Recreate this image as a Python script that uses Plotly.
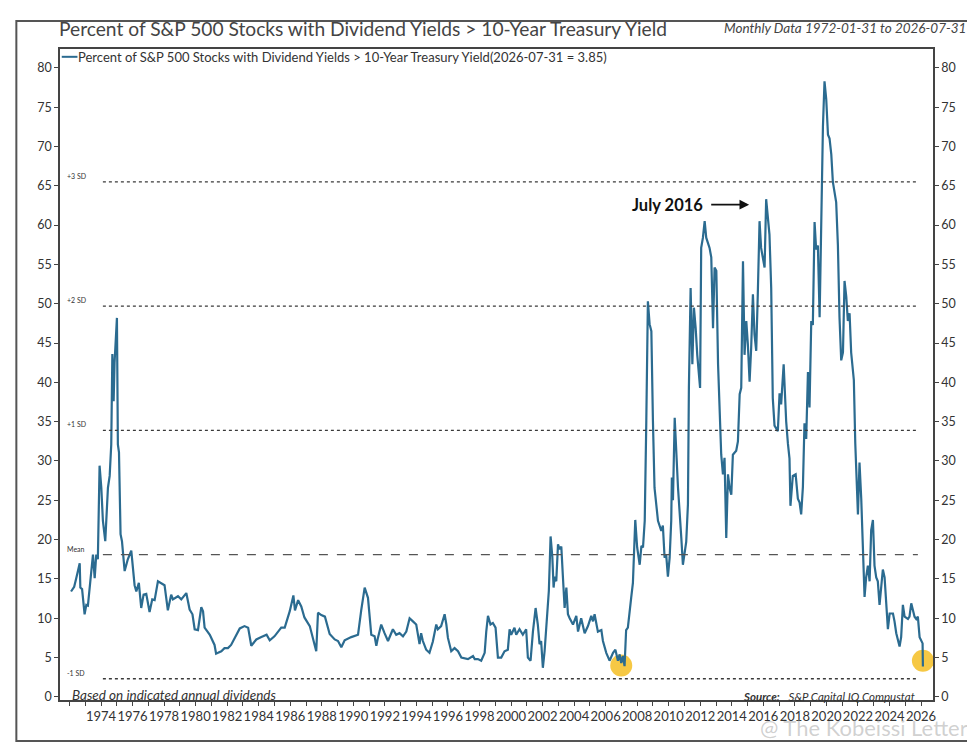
import plotly.graph_objects as go

# decimal years and percent values
years = [
    1972.10, 1972.30, 1972.43, 1972.65, 1972.69, 1972.80, 1972.96, 1973.07, 1973.17, 1973.38,
    1973.49, 1973.60, 1973.70, 1973.80, 1973.91, 1974.02, 1974.12, 1974.27, 1974.44, 1974.55,
    1974.65, 1974.72, 1974.80, 1974.86, 1975.01, 1975.07, 1975.14, 1975.24, 1975.33, 1975.50,
    1975.70, 1975.92, 1976.03, 1976.13, 1976.24, 1976.40, 1976.55, 1976.70, 1976.87, 1977.08,
    1977.25, 1977.40, 1977.61, 1977.80, 1978.03, 1978.24, 1978.45, 1978.56, 1978.88, 1979.09,
    1979.41, 1979.62, 1979.80, 1979.94, 1980.15, 1980.36, 1980.47, 1980.57, 1980.90, 1981.20,
    1981.30, 1981.42, 1981.63, 1981.83, 1982.05, 1982.25, 1982.48, 1982.80, 1983.10, 1983.33,
    1983.53, 1983.85, 1984.17, 1984.50, 1984.70, 1985.00, 1985.43, 1985.65, 1985.97, 1986.20,
    1986.30, 1986.50, 1986.70, 1986.90, 1987.24, 1987.45, 1987.65, 1987.76, 1987.97, 1988.20,
    1988.50, 1988.82, 1989.03, 1989.24, 1989.45, 1989.87, 1990.30, 1990.50, 1990.72, 1990.93,
    1991.14, 1991.35, 1991.46, 1991.56, 1991.77, 1991.98, 1992.20, 1992.51, 1992.72, 1992.93,
    1993.15, 1993.36, 1993.57, 1993.78, 1993.99, 1994.20, 1994.30, 1994.41, 1994.62, 1994.83,
    1995.04, 1995.26, 1995.36, 1995.57, 1995.79, 1995.90, 1996.00, 1996.21, 1996.42, 1996.64,
    1996.85, 1997.27, 1997.59, 1997.70, 1997.90, 1998.11, 1998.33, 1998.43, 1998.54, 1998.70,
    1998.85, 1999.02, 1999.17, 1999.38, 1999.59, 1999.80, 1999.91, 2000.01, 2000.22, 2000.33,
    2000.54, 2000.75, 2000.96, 2001.07, 2001.24, 2001.39, 2001.56, 2001.70, 2001.81, 2001.91,
    2002.02, 2002.13, 2002.28, 2002.40, 2002.51, 2002.62, 2002.70, 2002.77, 2002.87, 2002.98,
    2003.08, 2003.19, 2003.29, 2003.40, 2003.51, 2003.61, 2003.72, 2003.93, 2004.14, 2004.25,
    2004.45, 2004.56, 2004.67, 2004.88, 2005.09, 2005.20, 2005.30, 2005.51, 2005.73, 2005.83,
    2006.04, 2006.25, 2006.47, 2006.62, 2006.78, 2006.89, 2006.99, 2007.10, 2007.20, 2007.30,
    2007.41, 2007.62, 2007.73, 2007.88, 2008.00, 2008.16, 2008.27, 2008.37, 2008.48, 2008.58,
    2008.68, 2008.79, 2008.90, 2009.00, 2009.10, 2009.32, 2009.53, 2009.63, 2009.74, 2009.84,
    2009.95, 2010.06, 2010.16, 2010.20, 2010.27, 2010.38, 2010.48, 2010.59, 2010.80, 2010.90,
    2011.11, 2011.22, 2011.28, 2011.39, 2011.50, 2011.60, 2011.71, 2011.81, 2011.99, 2012.06,
    2012.17, 2012.28, 2012.38, 2012.59, 2012.70, 2012.81, 2012.91, 2013.02, 2013.13, 2013.33,
    2013.44, 2013.54, 2013.65, 2013.76, 2013.86, 2013.97, 2014.07, 2014.28, 2014.39, 2014.50,
    2014.60, 2014.71, 2014.81, 2014.92, 2015.02, 2015.13, 2015.23, 2015.34, 2015.44, 2015.55,
    2015.65, 2015.76, 2015.86, 2016.08, 2016.18, 2016.29, 2016.39, 2016.50, 2016.60, 2016.71,
    2016.92, 2017.03, 2017.13, 2017.29, 2017.45, 2017.56, 2017.66, 2017.72, 2017.87, 2018.05,
    2018.19, 2018.30, 2018.40, 2018.51, 2018.61, 2018.72, 2018.83, 2018.93, 2019.04, 2019.14,
    2019.25, 2019.35, 2019.46, 2019.57, 2019.67, 2019.78, 2019.88, 2019.99, 2020.10, 2020.20,
    2020.31, 2020.41, 2020.62, 2020.73, 2020.83, 2020.94, 2021.05, 2021.15, 2021.26, 2021.36,
    2021.47, 2021.57, 2021.74, 2021.83, 2022.00, 2022.10, 2022.21, 2022.31, 2022.42, 2022.52,
    2022.63, 2022.74, 2022.84, 2022.95, 2023.05, 2023.16, 2023.26, 2023.37, 2023.48, 2023.58,
    2023.69, 2023.79, 2023.90, 2024.01, 2024.22, 2024.32, 2024.43, 2024.64, 2024.74, 2024.85,
    2024.96, 2025.17, 2025.27, 2025.38, 2025.48, 2025.59, 2025.70, 2025.80, 2025.91, 2026.01,
    2026.10, 2026.12,
]
values = [
    13.4, 14.0, 15.1, 17.0, 13.9, 13.7, 10.5, 11.7, 11.6, 16.2,
    18.1, 15.1, 18.1, 17.5, 29.4, 26.6, 22.4, 19.8, 26.6, 28.1,
    32.1, 43.6, 37.6, 42.5, 48.2, 32.1, 31.1, 20.7, 19.8, 16.0,
    17.5, 18.6, 16.0, 14.2, 13.4, 14.5, 11.3, 13.0, 13.1, 10.8,
    12.4, 12.3, 14.7, 14.5, 14.2, 11.0, 13.0, 12.4, 12.8, 12.4,
    13.2, 11.1, 10.5, 8.6, 8.5, 11.4, 10.9, 8.8, 7.9, 6.6,
    5.5, 5.6, 5.8, 6.2, 6.2, 6.6, 7.5, 8.7, 9.0, 8.8,
    6.5, 7.3, 7.6, 7.9, 7.2, 7.7, 8.8, 8.8, 10.9, 12.9,
    11.0, 12.3, 11.5, 10.1, 9.0, 7.3, 5.8, 10.7, 10.4, 10.2,
    8.0, 7.3, 7.1, 6.3, 7.2, 7.6, 7.9, 11.0, 13.9, 12.6,
    7.9, 7.7, 6.5, 7.5, 9.2, 8.1, 7.1, 8.6, 7.9, 8.1,
    7.7, 8.3, 10.0, 9.6, 9.2, 6.7, 8.1, 7.1, 6.0, 5.6,
    7.0, 9.2, 8.6, 9.0, 10.5, 9.2, 7.5, 5.8, 6.2, 5.8,
    5.0, 4.8, 5.2, 4.8, 4.8, 4.6, 5.6, 8.3, 10.3, 9.2,
    9.4, 8.8, 5.0, 5.0, 5.8, 6.0, 8.6, 7.9, 8.8, 7.9,
    8.6, 7.9, 8.6, 5.0, 4.6, 8.3, 11.3, 9.2, 6.7, 7.1,
    3.7, 5.8, 10.0, 13.5, 20.4, 17.8, 13.9, 15.3, 14.7, 19.4,
    18.8, 19.1, 15.3, 11.3, 13.9, 10.5, 10.0, 9.2, 10.3, 8.3,
    10.0, 9.2, 8.1, 9.0, 10.3, 9.6, 10.5, 8.3, 8.5, 7.1,
    5.6, 4.6, 5.6, 6.0, 4.6, 5.4, 4.3, 5.2, 3.9, 8.5,
    8.8, 12.6, 14.5, 22.5, 19.0, 16.8, 19.2, 19.0, 22.4, 35.1,
    50.3, 47.4, 46.5, 35.1, 26.6, 22.4, 21.1, 21.8, 17.7, 18.1,
    15.3, 17.7, 22.4, 27.9, 25.0, 35.5, 30.8, 26.6, 20.2, 16.8,
    19.7, 24.5, 39.3, 52.0, 42.3, 49.5, 46.9, 43.5, 39.3, 57.1,
    58.4, 60.5, 58.4, 57.1, 55.9, 46.9, 54.6, 54.2, 42.3, 30.8,
    28.3, 30.4, 20.2, 28.3, 26.6, 25.7, 30.8, 31.3, 32.5, 38.5,
    39.3, 55.4, 43.5, 47.8, 44.8, 40.1, 44.4, 51.2, 46.1, 44.0,
    51.2, 60.5, 57.1, 54.6, 63.3, 60.5, 58.8, 52.0, 38.0, 34.5,
    33.8, 38.6, 37.2, 42.3, 35.0, 32.2, 30.3, 24.3, 28.1, 28.3,
    25.2, 24.7, 23.2, 26.7, 34.8, 32.8, 41.3, 36.8, 47.8, 47.3,
    60.4, 56.9, 57.4, 48.3, 59.9, 72.5, 78.3, 76.0, 71.5, 71.0,
    69.0, 65.5, 62.9, 57.4, 48.3, 42.8, 43.8, 52.9, 50.9, 47.8,
    48.8, 43.8, 40.3, 32.3, 23.2, 29.8, 25.2, 18.7, 12.7, 15.2,
    16.7, 14.7, 21.2, 22.5, 16.7, 15.2, 14.7, 11.7, 13.7, 16.2,
    15.2, 12.2, 8.6, 10.6, 10.6, 9.6, 8.1, 6.4, 7.6, 11.7,
    10.2, 9.9, 10.2, 11.9, 11.2, 10.2, 9.9, 10.2, 7.6, 7.1,
    6.8, 3.85,
]

mean_val = 18.1
sd_levels = [65.5, 49.7, 33.9, 2.3]
sd_labels = ["+3 SD", "+2 SD", "+1 SD", "-1 SD"]

tick_years = list(range(1972, 2027))
tick_text = [str(y) if y % 2 == 0 and y >= 1974 else "" for y in tick_years]
y_ticks = list(range(0, 81, 5))

highlight_years = [2006.99, 2026.12]
highlight_values = [4.0, 4.6]

line_color = "#2b6b90"
font_main = "Lato, 'Open Sans', sans-serif"

fig = go.Figure()

fig.add_trace(go.Scatter(
    x=highlight_years, y=highlight_values, mode="markers",
    marker=dict(size=22, color="rgba(245,190,35,0.85)", line=dict(width=0)),
    hoverinfo="skip", showlegend=False,
))
fig.add_trace(go.Scatter(
    x=years, y=values, mode="lines",
    line=dict(color=line_color, width=2.2),
    name="Percent of S&P 500 Stocks with Dividend Yields > 10-Year Treasury Yield",
    showlegend=False,
))
# same series on the right axis (invisible) so the mirrored labels appear
fig.add_trace(go.Scatter(
    x=years, y=values, mode="lines", yaxis="y2",
    line=dict(color="rgba(0,0,0,0)", width=0),
    hoverinfo="skip", showlegend=False,
))

x0, x1 = 1974.12, 2025.80
for lvl, lab in zip(sd_levels, sd_labels):
    fig.add_shape(type="line", x0=x0, x1=x1, y0=lvl, y1=lvl, xref="x", yref="y",
                  line=dict(color="#3a3a3a", width=1.3, dash="dot"))
    fig.add_annotation(x=0.006, y=lvl, xref="paper", yref="y", text=lab,
                       showarrow=False, xanchor="left", yanchor="bottom",
                       font=dict(size=7, color="#333", family=font_main))
fig.add_shape(type="line", x0=x0, x1=x1, y0=mean_val, y1=mean_val, xref="x", yref="y",
              line=dict(color="#555", width=1.3, dash="dash"))
fig.add_annotation(x=0.006, y=mean_val, xref="paper", yref="y", text="Mean",
                   showarrow=False, xanchor="left", yanchor="bottom",
                   font=dict(size=7, color="#333", family=font_main))

# outer frame
fig.add_shape(type="rect", xref="paper", yref="paper",
              x0=-0.050, x1=1.044, y0=-0.063, y1=1.043,
              line=dict(color="#555", width=2))

# legend drawn by hand
fig.add_shape(type="line", xref="paper", yref="paper", x0=0.002, x1=0.020, y0=0.988, y1=0.988,
              line=dict(color=line_color, width=2))
fig.add_annotation(x=0.018, y=0.988, xref="paper", yref="paper",
                   text="Percent of S&P 500 Stocks with Dividend Yields > 10-Year Treasury Yield(2026-07-31 = 3.85)",
                   showarrow=False, xanchor="left", yanchor="middle",
                   font=dict(size=13.0, color="#333", family=font_main))

fig.add_annotation(x=-0.003, y=1.031, xref="paper", yref="paper",
                   text="Percent of S&P 500 Stocks with Dividend Yields > 10-Year Treasury Yield",
                   showarrow=False, xanchor="left", yanchor="middle",
                   font=dict(size=19.2, color="#444", family=font_main))
fig.add_annotation(x=1.040, y=1.033, xref="paper", yref="paper",
                   text="<i>Monthly Data 1972-01-31 to 2026-07-31</i>",
                   showarrow=False, xanchor="right", yanchor="middle",
                   font=dict(size=13.5, color="#444", family=font_main))

fig.add_annotation(x=0.011, y=0.008, xref="paper", yref="paper",
                   text="<i>Based on indicated annual dividends</i>",
                   showarrow=False, xanchor="left", yanchor="middle",
                   font=dict(size=13.5, color="#333", family=font_main))
fig.add_annotation(x=0.982, y=0.006, xref="paper", yref="paper",
                   text="<b><i>Source:</i></b>   <i>S&P Capital IQ Compustat</i>",
                   showarrow=False, xanchor="right", yanchor="middle",
                   font=dict(size=11.5, color="#333", family=font_main))

fig.add_annotation(x=2015.1, y=62.6, ax=2012.6, ay=62.6, xref="x", yref="y",
                   axref="x", ayref="y", text="", showarrow=True,
                   arrowhead=2, arrowsize=1.2, arrowwidth=1.6, arrowcolor="#111")
fig.add_annotation(x=2012.3, y=62.6, xref="x", yref="y", text="<b>July 2016</b>",
                   showarrow=False, xanchor="right", yanchor="middle",
                   font=dict(size=16.5, color="#111", family=font_main))

fig.add_annotation(x=1.042, y=-0.042, xref="paper", yref="paper",
                   text="@ The Kobeissi Letter", showarrow=False,
                   xanchor="right", yanchor="middle",
                   font=dict(size=22, color="rgba(150,150,150,0.45)", family=font_main))

axis_common = dict(showline=True, linecolor="#444", linewidth=1.5, ticks="outside",
                   tickcolor="#444", showgrid=False, zeroline=False)

fig.update_layout(
    width=975, height=746,
    margin=dict(l=52, r=50, t=41, b=54),
    paper_bgcolor="white", plot_bgcolor="white",
    font=dict(family=font_main, color="#333"),
    xaxis=dict(range=[1971.40, 2026.76], tickvals=tick_years, ticktext=tick_text,
               ticklen=4, tickangle=0, tickfont=dict(size=13, color="#333"), mirror=True,
               **axis_common),
    yaxis=dict(range=[-0.4, 82.4], tickvals=y_ticks, ticklen=4,
               tickfont=dict(size=12.5, color="#333"), **axis_common),
    yaxis2=dict(range=[-0.4, 82.4], tickvals=y_ticks, ticklen=4, overlaying="y",
                side="right", tickfont=dict(size=12.5, color="#333"), **axis_common),
)

fig.write_html("out.html")
